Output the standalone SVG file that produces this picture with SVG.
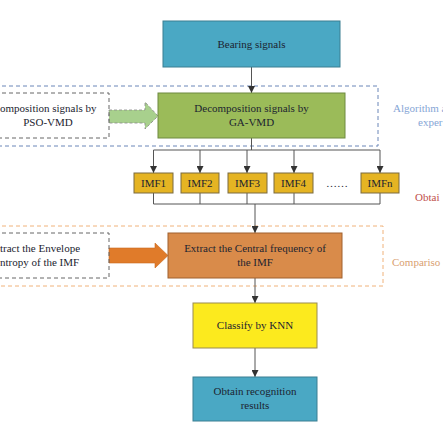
<svg xmlns="http://www.w3.org/2000/svg" width="443" height="443" viewBox="0 0 443 443">
<defs>
<style>
text{font-family:"Liberation Serif","Times New Roman",serif;font-size:11px;fill:#1c2430}
.c{text-anchor:middle}
.ln{stroke:#555;stroke-width:1;fill:none}
.box{stroke-width:1}
.dash{fill:none;stroke-dasharray:4,3;stroke-width:1}
</style>
<marker id="ah" viewBox="0 0 8 8" refX="8" refY="4" markerWidth="7" markerHeight="7" markerUnits="userSpaceOnUse" orient="auto">
<path d="M0,0 L8,4 L0,8 z" fill="#333"/>
</marker>
</defs>
<rect width="443" height="443" fill="#fff"/>

<g id="groups">
<rect class="dash" x="-5" y="86" width="383" height="60" stroke="#6b86b8"/>
<rect class="dash" x="-5" y="226" width="388" height="60" stroke="#f0b27a"/>
<text x="393" y="112" fill="#86a6d6" style="fill:#86a6d6">Algorithm a</text>
<text x="418" y="126" style="fill:#86a6d6">exper</text>
<text x="415" y="201" style="fill:#c0504d">Obtai</text>
<text x="392" y="266" style="fill:#d9a070">Compariso</text>
</g>

<g id="connectors">
<line class="ln" x1="251.5" y1="67" x2="251.5" y2="93" marker-end="url(#ah)"/>
<line class="ln" x1="251.5" y1="138" x2="251.5" y2="150"/>
<line class="ln" x1="153.5" y1="150" x2="380" y2="150"/>
<line class="ln" x1="153.5" y1="150" x2="153.5" y2="173" marker-end="url(#ah)"/>
<line class="ln" x1="200" y1="150" x2="200" y2="173" marker-end="url(#ah)"/>
<line class="ln" x1="247" y1="150" x2="247" y2="173" marker-end="url(#ah)"/>
<line class="ln" x1="294" y1="150" x2="294" y2="173" marker-end="url(#ah)"/>
<line class="ln" x1="380" y1="150" x2="380" y2="173" marker-end="url(#ah)"/>
<line class="ln" x1="153.5" y1="193" x2="153.5" y2="204"/>
<line class="ln" x1="200" y1="193" x2="200" y2="204"/>
<line class="ln" x1="247" y1="193" x2="247" y2="204"/>
<line class="ln" x1="294" y1="193" x2="294" y2="204"/>
<line class="ln" x1="380" y1="193" x2="380" y2="204"/>
<line class="ln" x1="153.5" y1="204" x2="380" y2="204"/>
<line class="ln" x1="255" y1="204" x2="255" y2="233" marker-end="url(#ah)"/>
<line class="ln" x1="255" y1="278" x2="255" y2="303" marker-end="url(#ah)"/>
<line class="ln" x1="255" y1="348" x2="255" y2="377" marker-end="url(#ah)"/>
<path d="M109,110 L145,110 L145,102 L158,116 L145,129 L145,123 L109,123 z" fill="#a8d08d" stroke="#888" stroke-dasharray="3,2" stroke-width="0.8"/>
<path d="M109,248 L155,248 L155,243 L168,255.5 L155,268 L155,263 L109,263 z" fill="#e07b2a" stroke="#c96a20" stroke-width="0.6"/>
</g>

<g id="bearing">
<rect class="box" x="163" y="21" width="177" height="46" fill="#4aa8c4" stroke="#3b7f92"/>
<text class="c" x="251.5" y="48">Bearing signals</text>
</g>
<g id="ga-vmd">
<rect class="box" x="158" y="93" width="187" height="45" fill="#9bbb59" stroke="#6e8a40"/>
<text class="c" x="251.5" y="112">Decomposition signals by</text>
<text class="c" x="251.5" y="126">GA-VMD</text>
</g>
<g id="pso-vmd">
<rect class="dash" x="-5" y="93" width="114" height="45" stroke="#666"/>
<text x="0" y="112">omposition signals by</text>
<text class="c" x="48" y="126">PSO-VMD</text>
</g>
<g id="imf1"><rect class="box" x="134" y="173" width="39" height="20" fill="#e5b423" stroke="#7a6a40"/><text class="c" x="153.5" y="187">IMF1</text></g>
<g id="imf2"><rect class="box" x="181" y="173" width="38" height="20" fill="#e5b423" stroke="#7a6a40"/><text class="c" x="200" y="187">IMF2</text></g>
<g id="imf3"><rect class="box" x="228" y="173" width="39" height="20" fill="#e5b423" stroke="#7a6a40"/><text class="c" x="247.5" y="187">IMF3</text></g>
<g id="imf4"><rect class="box" x="274" y="173" width="39" height="20" fill="#e5b423" stroke="#7a6a40"/><text class="c" x="293.5" y="187">IMF4</text></g>
<g id="dots"><text class="c" x="337" y="187">……</text></g>
<g id="imfn"><rect class="box" x="361" y="173" width="38" height="20" fill="#e5b423" stroke="#7a6a40"/><text class="c" x="380" y="187">IMFn</text></g>
<g id="envelope">
<rect class="dash" x="-5" y="233" width="114" height="45" stroke="#666"/>
<text x="0" y="252">tract the Envelope</text>
<text x="0" y="266">ntropy of the IMF</text>
</g>
<g id="central">
<rect class="box" x="168" y="233" width="174" height="45" fill="#d98b4a" stroke="#a0602e"/>
<text class="c" x="255" y="252">Extract the Central frequency of</text>
<text class="c" x="255" y="266">the IMF</text>
</g>
<g id="knn">
<rect class="box" x="193" y="303" width="124" height="45" fill="#fcea1e" stroke="#9a8c50"/>
<text class="c" x="255" y="329">Classify by KNN</text>
</g>
<g id="result">
<rect class="box" x="193" y="377" width="124" height="44" fill="#4aa8c4" stroke="#3b7f92"/>
<text class="c" x="255" y="395">Obtain recognition</text>
<text class="c" x="255" y="409">results</text>
</g>
</svg>
